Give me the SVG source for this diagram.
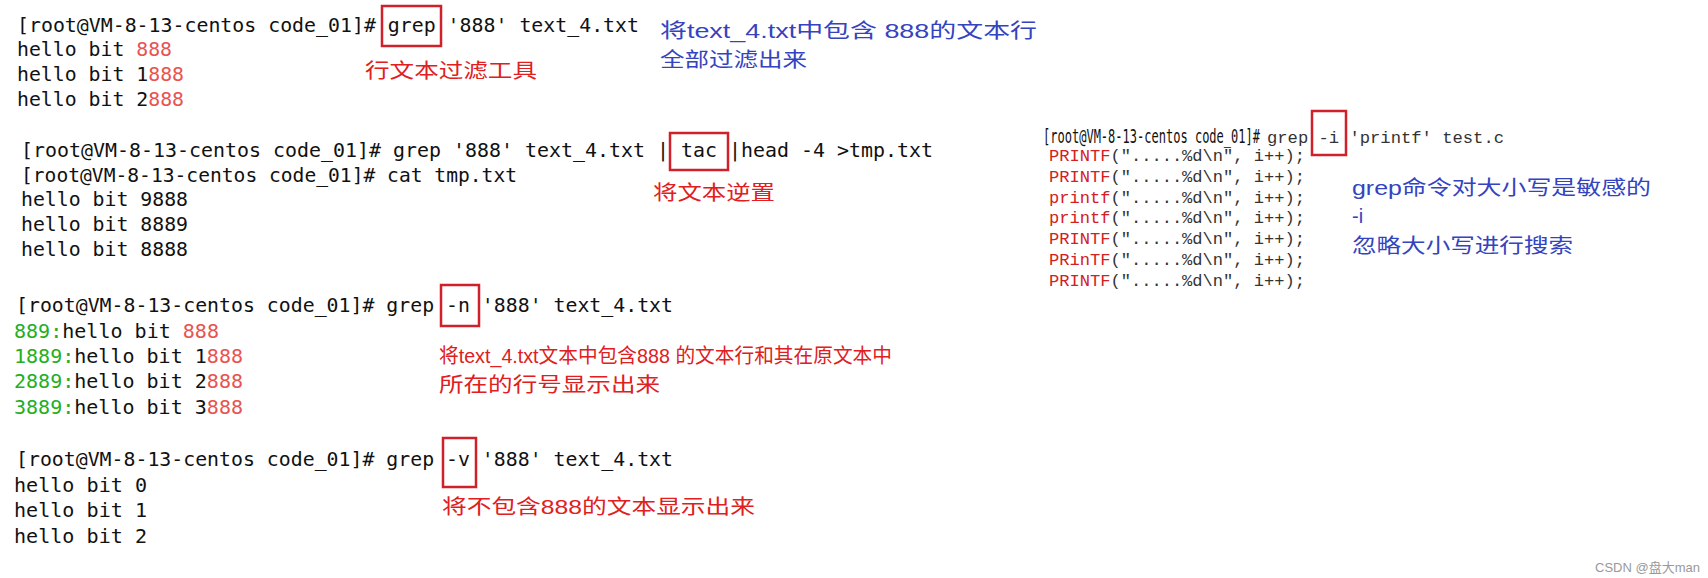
<svg xmlns="http://www.w3.org/2000/svg" width="1708" height="578" viewBox="0 0 1708 578">
<style>
.t{font-family:"DejaVu Sans Mono","Liberation Mono",monospace;font-size:19px;fill:#111}
.r8{fill:#e8534f}.g{fill:#22b022}
.cn{font-family:"Liberation Sans","Noto Sans CJK SC",sans-serif;font-size:20px}
.red{fill:#e02020}.blue{fill:#3444c0}
.box{fill:none;stroke:#d0202a;stroke-width:2.5}
.s{font-family:"Liberation Mono","Noto Sans CJK SC",monospace;font-size:16px;fill:#333}
.kw{fill:#d42020}
</style>
<rect width="1708" height="578" fill="#fff"/>
<g id="block1">
<text class="t" x="17" y="32" textLength="622" lengthAdjust="spacingAndGlyphs">[root@VM-8-13-centos code_01]# grep '888' text_4.txt</text>
<text class="t" x="17" y="56" textLength="155" lengthAdjust="spacingAndGlyphs">hello bit <tspan class="r8">888</tspan></text>
<text class="t" x="17" y="81" textLength="167" lengthAdjust="spacingAndGlyphs">hello bit 1<tspan class="r8">888</tspan></text>
<text class="t" x="17" y="106" textLength="167" lengthAdjust="spacingAndGlyphs">hello bit 2<tspan class="r8">888</tspan></text>
<rect class="box" x="382" y="6" width="59" height="40"/>
<text class="cn red" x="365" y="78" textLength="172" lengthAdjust="spacingAndGlyphs">行文本过滤工具</text>
<text class="cn blue" x="660" y="38" textLength="377" lengthAdjust="spacingAndGlyphs">将text_4.txt中包含 888的文本行</text>
<text class="cn blue" x="660" y="67" textLength="147" lengthAdjust="spacingAndGlyphs">全部过滤出来</text>
</g>
<g id="block2">
<text class="t" x="21" y="157" textLength="912" lengthAdjust="spacingAndGlyphs">[root@VM-8-13-centos code_01]# grep '888' text_4.txt | tac |head -4 &gt;tmp.txt</text>
<text class="t" x="21" y="182" textLength="496" lengthAdjust="spacingAndGlyphs">[root@VM-8-13-centos code_01]# cat tmp.txt</text>
<text class="t" x="21" y="206" textLength="167" lengthAdjust="spacingAndGlyphs">hello bit 9888</text>
<text class="t" x="21" y="231" textLength="167" lengthAdjust="spacingAndGlyphs">hello bit 8889</text>
<text class="t" x="21" y="256" textLength="167" lengthAdjust="spacingAndGlyphs">hello bit 8888</text>
<rect class="box" x="670" y="133" width="58" height="37"/>
<text class="cn red" x="653" y="200" textLength="122" lengthAdjust="spacingAndGlyphs">将文本逆置</text>
</g>
<g id="block3">
<text class="t" x="16" y="312" textLength="657" lengthAdjust="spacingAndGlyphs">[root@VM-8-13-centos code_01]# grep -n '888' text_4.txt</text>
<text class="t" x="14" y="338" textLength="205" lengthAdjust="spacingAndGlyphs"><tspan class="g">889:</tspan>hello bit <tspan class="r8">888</tspan></text>
<text class="t" x="14" y="363" textLength="229" lengthAdjust="spacingAndGlyphs"><tspan class="g">1889:</tspan>hello bit 1<tspan class="r8">888</tspan></text>
<text class="t" x="14" y="388" textLength="229" lengthAdjust="spacingAndGlyphs"><tspan class="g">2889:</tspan>hello bit 2<tspan class="r8">888</tspan></text>
<text class="t" x="14" y="414" textLength="229" lengthAdjust="spacingAndGlyphs"><tspan class="g">3889:</tspan>hello bit 3<tspan class="r8">888</tspan></text>
<rect class="box" x="441" y="285" width="38" height="41"/>
<text class="cn red" x="439" y="363" textLength="453" lengthAdjust="spacingAndGlyphs">将text_4.txt文本中包含888 的文本行和其在原文本中</text>
<text class="cn red" x="439" y="392" textLength="221" lengthAdjust="spacingAndGlyphs">所在的行号显示出来</text>
</g>
<g id="block4">
<text class="t" x="16" y="466" textLength="657" lengthAdjust="spacingAndGlyphs">[root@VM-8-13-centos code_01]# grep -v '888' text_4.txt</text>
<text class="t" x="14" y="492" textLength="133" lengthAdjust="spacingAndGlyphs">hello bit 0</text>
<text class="t" x="14" y="517" textLength="133" lengthAdjust="spacingAndGlyphs">hello bit 1</text>
<text class="t" x="14" y="543" textLength="133" lengthAdjust="spacingAndGlyphs">hello bit 2</text>
<rect class="box" x="443" y="438" width="33" height="49"/>
<text class="cn red" x="442" y="514" textLength="313" lengthAdjust="spacingAndGlyphs">将不包含888的文本显示出来</text>
</g>
<g id="block5">
<text class="t" x="1043" y="143" font-size="14" textLength="217" lengthAdjust="spacingAndGlyphs">[root@VM-8-13-centos code_01]#</text>
<text class="s" x="1267" y="143" textLength="237" lengthAdjust="spacingAndGlyphs" font-family="Liberation Serif">grep -i 'printf' test.c</text>
<rect class="box" x="1312" y="111" width="34" height="44"/>
<text class="s" x="1049" y="161" textLength="256" lengthAdjust="spacingAndGlyphs"><tspan class="kw">PRINTF</tspan>(".....%d\n", i++);</text>
<text class="s" x="1049" y="182" textLength="256" lengthAdjust="spacingAndGlyphs"><tspan class="kw">PRINTF</tspan>(".....%d\n", i++);</text>
<text class="s" x="1049" y="203" textLength="256" lengthAdjust="spacingAndGlyphs"><tspan class="kw">printf</tspan>(".....%d\n", i++);</text>
<text class="s" x="1049" y="223" textLength="256" lengthAdjust="spacingAndGlyphs"><tspan class="kw">printf</tspan>(".....%d\n", i++);</text>
<text class="s" x="1049" y="244" textLength="256" lengthAdjust="spacingAndGlyphs"><tspan class="kw">PRINTF</tspan>(".....%d\n", i++);</text>
<text class="s" x="1049" y="265" textLength="256" lengthAdjust="spacingAndGlyphs"><tspan class="kw">PRinTF</tspan>(".....%d\n", i++);</text>
<text class="s" x="1049" y="286" textLength="256" lengthAdjust="spacingAndGlyphs"><tspan class="kw">PRINTF</tspan>(".....%d\n", i++);</text>
<text class="cn blue" x="1352" y="195" textLength="299" lengthAdjust="spacingAndGlyphs">grep命令对大小写是敏感的</text>
<text class="cn blue" x="1352" y="223">-i</text>
<text class="cn blue" x="1352" y="253" textLength="221" lengthAdjust="spacingAndGlyphs">忽略大小写进行搜索</text>
</g>
<text x="1700" y="572" text-anchor="end" font-family="Liberation Sans,Noto Sans CJK SC,sans-serif" font-size="13" fill="#999">CSDN @盘大man</text>
</svg>
